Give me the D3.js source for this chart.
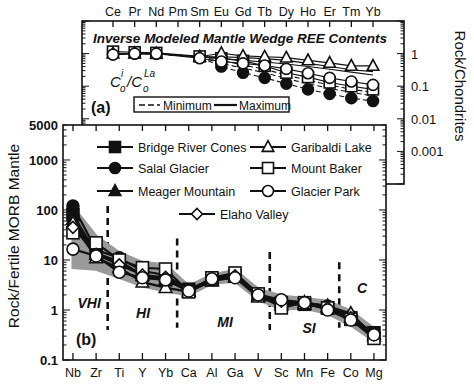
<!DOCTYPE html>
<html>
<head>
<meta charset="utf-8">
<script src="https://cdn.jsdelivr.net/npm/d3@7"></script>
<style>
  body { margin: 0; background: #fff; }
  svg { display: block; font-family: "Liberation Sans", Arial, sans-serif; }
</style>
</head>
<body>
<div class="visualization"></div>
<script>
'use strict';

// ---- panel (a): chondrite-normalised REE ----
var reeLabels = ['Ce', 'Pr', 'Nd', 'Pm', 'Sm', 'Eu', 'Gd', 'Tb', 'Dy', 'Ho', 'Er', 'Tm', 'Yb'];
var reeSquare   = [1.15, 1.1, 1.05, null, 0.82, 0.72, 0.6, 0.42, 0.26, 0.19, 0.13, 0.1, 0.08];
var reeTriangle = [1.0, 1.0, 1.0, null, 0.8, 1.02, 0.85, 0.8, 0.75, 0.62, 0.52, 0.42, 0.42];
var reeCircle   = [0.93, 1.0, 1.0, null, 0.72, 0.57, 0.5, 0.43, 0.34, 0.25, 0.18, 0.14, 0.11];
var reeFilled   = [1.0, 1.0, 1.0, null, 0.78, 0.4, 0.26, 0.18, 0.12, 0.08, 0.058, 0.043, 0.035];
var reeMaxB     = [1.0, 1.0, 1.0, null, 0.8, 0.7, 0.62, 0.55, 0.48, 0.4, 0.33, 0.27, 0.22];
var reeMaxC     = [1.0, 1.0, 1.0, null, 0.8, 0.8, 0.75, 0.7, 0.62, 0.5, 0.4, 0.32, 0.28];
var reeMinB     = [1.0, 1.0, 1.0, null, 0.78, 0.62, 0.45, 0.33, 0.22, 0.15, 0.11, 0.08, 0.065];
var reeMinC     = [1.0, 1.0, 1.0, null, 0.8, 0.5, 0.36, 0.26, 0.17, 0.12, 0.085, 0.065, 0.05];
var reeTicks    = [1, 0.1, 0.01, 0.001];

// ---- panel (b): fertile MORB mantle normalised ----
var elements = ['Nb', 'Zr', 'Ti', 'Y', 'Yb', 'Ca', 'Al', 'Ga', 'V', 'Sc', 'Mn', 'Fe', 'Co', 'Mg'];
var bridgeRiver = [80, 14, 9, 5, 4, 2.6, 4, 4.8, 2, 1.4, 1.3, 1.1, 0.7, 0.35];
var salalGlacier = [120, 16, 11, 6, 5, 2.5, 4.2, 5, 2.1, 1.5, 1.4, 1.2, 0.75, 0.33];
var meagerMountain = [65, 13, 9.5, 5, 4, 2.4, 4, 4.6, 1.9, 1.4, 1.3, 1.1, 0.7, 0.33];
var garibaldiLake = [55, 11, 7, 3.6, 2.8, 2.3, 3.8, 4.5, 1.8, 1.25, 1.4, 1.2, 0.85, 0.3];
var mountBaker = [35, 22, 10, 7, 6.6, 2.3, 4.4, 5.5, 2.1, 1.1, 1.4, 1.1, 0.65, 0.27];
var glacierPark = [16.5, 12, 5.7, 4.4, 4, 2.4, 4.2, 4.4, 2, 1.6, 1.4, 1.0, 0.63, 0.32];
var elahoValley = [45, 13, 8, 5, 4.5, 2.5, 4.2, 4.8, 2, 1.5, 1.4, 1.1, 0.7, 0.32];
var rangeMin = [7, 6.5, 4.5, 3, 2.4, 2, 3.4, 3.8, 1.6, 1.05, 1.1, 0.85, 0.5, 0.24];
var rangeMax = [115, 30, 14, 9, 8, 3, 5, 6.2, 2.6, 1.9, 1.7, 1.5, 0.95, 0.42];
var morbTicks = [5000, 1000, 100, 10, 1, 0.1];
var zoneLabels = ['VHI', 'HI', 'MI', 'SI', 'C'];

var svg = d3.select('.visualization')
  .append('svg')
  .attr('width', 474)
  .attr('height', 386);

var xA = d3.scaleLinear().domain([-1.43, 13.43]).range([82, 404]);
var yA = d3.scaleLog().domain([0.0001, 10]).range([184, 21]);
var xB = d3.scaleLinear().domain([-0.43, 13.52]).range([63, 386]);
var yB = d3.scaleLog().domain([0.1, 5000]).range([360, 125]);

function minorTicks(lo, hi){
  var out = [];
  for(var e = Math.floor(Math.log10(lo)); e <= Math.ceil(Math.log10(hi)); e++){
    for(var m = 1; m < 10; m++){
      var v = m * Math.pow(10, e);
      if(v >= lo * 0.999 && v <= hi * 1.001) out.push(v);
    }
  }
  return out;
}

// draw a marker shape centred on 0,0
function marker(g, type, size, filled){
  var s = size / 2;
  var fill = filled ? '#111' : '#fff';
  var el;
  if(type === 'square'){
    el = g.append('rect').attr('x', -s).attr('y', -s).attr('width', size).attr('height', size);
  } else if(type === 'circle'){
    el = g.append('circle').attr('r', s);
  } else if(type === 'triangle'){
    el = g.append('path').attr('d', 'M0,' + (-s * 1.15) + 'L' + (s * 1.05) + ',' + (s * 0.8) + 'L' + (-s * 1.05) + ',' + (s * 0.8) + 'Z');
  } else {
    el = g.append('path').attr('d', 'M0,' + (-s) + 'L' + s + ',0L0,' + s + 'L' + (-s) + ',0Z');
  }
  el.attr('fill', fill).attr('stroke', '#111').attr('stroke-width', 1.6);
}

// ================= PANEL (a) =================
var pa = svg.append('g');

pa.append('rect')
  .attr('x', 82).attr('y', 21).attr('width', 322).attr('height', 163)
  .attr('fill', '#fff').attr('stroke', '#111').attr('stroke-width', 1.6);

// top ticks + labels
reeLabels.forEach(function(d, i){
  pa.append('line')
    .attr('x1', xA(i)).attr('x2', xA(i)).attr('y1', 21).attr('y2', 27)
    .attr('stroke', '#111').attr('stroke-width', 1.3);
  pa.append('text')
    .attr('x', xA(i)).attr('y', 16)
    .attr('text-anchor', 'middle')
    .attr('font-size', 12.5).attr('fill', '#111')
    .text(d);
});

// left and right log ticks
minorTicks(0.0001, 10).forEach(function(v){
  var major = Math.abs(Math.log10(v) - Math.round(Math.log10(v))) < 1e-6;
  var len = major ? 7 : 3.5;
  pa.append('line')
    .attr('x1', 82).attr('x2', 82 + len).attr('y1', yA(v)).attr('y2', yA(v))
    .attr('stroke', '#111').attr('stroke-width', 1);
  pa.append('line')
    .attr('x1', 404).attr('x2', 404 - len).attr('y1', yA(v)).attr('y2', yA(v))
    .attr('stroke', '#111').attr('stroke-width', 1);
});

reeTicks.forEach(function(v){
  pa.append('text')
    .attr('x', 411).attr('y', yA(v) + 5)
    .attr('font-size', 13).attr('fill', '#111')
    .text(v);
});

pa.append('text')
  .attr('transform', 'translate(455,86) rotate(90)')
  .attr('text-anchor', 'middle')
  .attr('font-size', 15).attr('fill', '#111')
  .text('Rock/Chondrites');

pa.append('text')
  .attr('x', 240).attr('y', 43)
  .attr('text-anchor', 'middle')
  .attr('font-size', 13.5).attr('font-weight', 'bold').attr('font-style', 'italic')
  .attr('fill', '#111')
  .text('Inverse Modeled Mantle Wedge REE Contents');

// C_o^i / C_o^La, pieces placed one by one
var ratioParts = [
  {t: 'C', x: 110, y: 87, size: 15},
  {t: 'o', x: 120, y: 92, size: 10},
  {t: 'i', x: 121, y: 77, size: 10},
  {t: '/C', x: 127, y: 87, size: 15},
  {t: 'o', x: 143, y: 92, size: 10},
  {t: 'La', x: 144, y: 77, size: 10}
];
ratioParts.forEach(function(p){
  pa.append('text')
    .attr('x', p.x).attr('y', p.y)
    .attr('font-size', p.size).attr('font-style', 'italic').attr('fill', '#111')
    .text(p.t);
});

pa.append('text')
  .attr('x', 91).attr('y', 113)
  .attr('font-size', 16).attr('font-weight', 'bold').attr('fill', '#111')
  .text('(a)');

// min / max legend
pa.append('rect')
  .attr('x', 134).attr('y', 97).attr('width', 155).attr('height', 15)
  .attr('fill', '#fff').attr('stroke', '#111').attr('stroke-width', 1.4);
pa.append('line')
  .attr('x1', 139).attr('x2', 160).attr('y1', 105).attr('y2', 105)
  .attr('stroke', '#111').attr('stroke-width', 1.6).attr('stroke-dasharray', '6,3');
pa.append('text').attr('x', 163).attr('y', 109.5)
  .attr('font-size', 12).attr('fill', '#111').text('Minimum');
pa.append('line')
  .attr('x1', 214).attr('x2', 237).attr('y1', 105).attr('y2', 105)
  .attr('stroke', '#111').attr('stroke-width', 2.2);
pa.append('text').attr('x', 239).attr('y', 109.5)
  .attr('font-size', 12).attr('fill', '#111').text('Maximum');

var lineA = d3.line()
  .x(function(d){ return xA(d.i); })
  .y(function(d){ return yA(d.v); });

function reePts(arr){
  return arr.map(function(v, i){ return {i: i, v: v}; })
    .filter(function(d){ return d.v !== null; });
}

var reeLines = [
  {data: reeMaxB, dash: null},
  {data: reeMaxC, dash: null},
  {data: reeMinB, dash: '5,3'},
  {data: reeMinC, dash: '5,3'},
  {data: reeFilled, dash: '5,3'},
  {data: reeSquare, dash: null},
  {data: reeTriangle, dash: null},
  {data: reeCircle, dash: null}
];

reeLines.forEach(function(s){
  pa.append('path')
    .datum(reePts(s.data))
    .attr('d', lineA)
    .attr('fill', 'none')
    .attr('stroke', '#111')
    .attr('stroke-width', 1.1)
    .attr('stroke-dasharray', s.dash);
});

var reeMarked = [
  {data: reeFilled, type: 'circle', filled: true},
  {data: reeSquare, type: 'square', filled: false},
  {data: reeTriangle, type: 'triangle', filled: false},
  {data: reeCircle, type: 'circle', filled: false}
];

reeMarked.forEach(function(s){
  reePts(s.data).forEach(function(d){
    var g = pa.append('g').attr('transform', 'translate(' + xA(d.i) + ',' + yA(d.v) + ')');
    marker(g, s.type, 11, s.filled);
  });
});

// ================= PANEL (b) =================
var pb = svg.append('g');

pb.append('rect')
  .attr('x', 63).attr('y', 125).attr('width', 323).attr('height', 235)
  .attr('fill', '#fff').attr('stroke', '#111').attr('stroke-width', 1.6);

elements.forEach(function(d, i){
  pb.append('line')
    .attr('x1', xB(i)).attr('x2', xB(i)).attr('y1', 360).attr('y2', 353)
    .attr('stroke', '#111').attr('stroke-width', 1.3);
  pb.append('line')
    .attr('x1', xB(i)).attr('x2', xB(i)).attr('y1', 125).attr('y2', 131)
    .attr('stroke', '#111').attr('stroke-width', 1.3);
  pb.append('text')
    .attr('x', xB(i)).attr('y', 377)
    .attr('text-anchor', 'middle')
    .attr('font-size', 12.5).attr('fill', '#111')
    .text(d);
});

minorTicks(0.1, 5000).forEach(function(v){
  var major = Math.abs(Math.log10(v) - Math.round(Math.log10(v))) < 1e-6;
  var len = major ? 7 : 3.5;
  pb.append('line')
    .attr('x1', 63).attr('x2', 63 + len).attr('y1', yB(v)).attr('y2', yB(v))
    .attr('stroke', '#111').attr('stroke-width', 1);
  pb.append('line')
    .attr('x1', 386).attr('x2', 386 - len).attr('y1', yB(v)).attr('y2', yB(v))
    .attr('stroke', '#111').attr('stroke-width', 1);
});

morbTicks.forEach(function(v){
  pb.append('text')
    .attr('x', 58).attr('y', yB(v) + 5)
    .attr('text-anchor', 'end')
    .attr('font-size', 13).attr('font-weight', 'bold').attr('fill', '#111')
    .text(v);
});

pb.append('text')
  .attr('transform', 'translate(19,236) rotate(-90)')
  .attr('text-anchor', 'middle')
  .attr('font-size', 15.5).attr('fill', '#111')
  .text('Rock/Fertile MORB Mantle');

// compatibility zone dividers
var dividers = [
  {at: 1.5, top: 120, bottom: 0.4},
  {at: 4.5, top: 27, bottom: 0.44},
  {at: 8.5, top: 14.5, bottom: 0.4},
  {at: 11.5, top: 9, bottom: 0.44}
];
dividers.forEach(function(d){
  pb.append('line')
    .attr('x1', xB(d.at)).attr('x2', xB(d.at))
    .attr('y1', yB(d.top)).attr('y2', yB(d.bottom))
    .attr('stroke', '#111').attr('stroke-width', 2.6)
    .attr('stroke-dasharray', '7,5');
});

var zonePos = [[0.7, 1.1], [3.03, 0.69], [6.57, 0.46], [10.2, 0.35], [12.49, 2.2]];
zoneLabels.forEach(function(t, i){
  pb.append('text')
    .attr('x', xB(zonePos[i][0])).attr('y', yB(zonePos[i][1]))
    .attr('text-anchor', 'middle')
    .attr('font-size', 14).attr('font-weight', 'bold').attr('font-style', 'italic')
    .attr('fill', '#111')
    .text(t);
});

pb.append('text')
  .attr('x', 76).attr('y', 345)
  .attr('font-size', 16).attr('font-weight', 'bold').attr('fill', '#111')
  .text('(b)');

// grey envelope of all samples
var area = d3.area()
  .x(function(d, i){ return xB(i); })
  .y0(function(d, i){ return yB(rangeMin[i]); })
  .y1(function(d, i){ return yB(rangeMax[i]); });

pb.append('path')
  .datum(elements)
  .attr('d', area)
  .attr('fill', '#9a9a9a')
  .attr('stroke', '#9a9a9a')
  .attr('stroke-width', 3);

var series = [
  {name: 'Bridge River Cones', data: bridgeRiver, type: 'square', filled: true},
  {name: 'Salal Glacier', data: salalGlacier, type: 'circle', filled: true},
  {name: 'Meager Mountain', data: meagerMountain, type: 'triangle', filled: true},
  {name: 'Garibaldi Lake', data: garibaldiLake, type: 'triangle', filled: false},
  {name: 'Mount Baker', data: mountBaker, type: 'square', filled: false},
  {name: 'Elaho Valley', data: elahoValley, type: 'diamond', filled: false},
  {name: 'Glacier Park', data: glacierPark, type: 'circle', filled: false}
];

var lineB = d3.line()
  .x(function(d, i){ return xB(i); })
  .y(function(d){ return yB(d); });

series.forEach(function(s){
  pb.append('path')
    .datum(s.data)
    .attr('d', lineB)
    .attr('fill', 'none')
    .attr('stroke', '#111')
    .attr('stroke-width', 2.2);
});

series.forEach(function(s){
  s.data.forEach(function(v, i){
    var g = pb.append('g').attr('transform', 'translate(' + xB(i) + ',' + yB(v) + ')');
    marker(g, s.type, 12, s.filled);
  });
});

// legend
var legendRows = [
  {s: 0, x: 97, y: 147}, {s: 1, x: 97, y: 168}, {s: 2, x: 97, y: 191},
  {s: 3, x: 250, y: 147}, {s: 4, x: 250, y: 168}, {s: 6, x: 250, y: 191},
  {s: 5, x: 179, y: 214}
];
legendRows.forEach(function(r){
  var s = series[r.s];
  pb.append('line')
    .attr('x1', r.x).attr('x2', r.x + 36).attr('y1', r.y).attr('y2', r.y)
    .attr('stroke', '#111').attr('stroke-width', 2.2);
  var g = pb.append('g').attr('transform', 'translate(' + (r.x + 18) + ',' + r.y + ')');
  marker(g, s.type, 11, s.filled);
  pb.append('text')
    .attr('x', r.x + 41).attr('y', r.y + 4.5)
    .attr('font-size', 12.5).attr('fill', '#111')
    .text(s.name);
});
</script>
</body>
</html>
